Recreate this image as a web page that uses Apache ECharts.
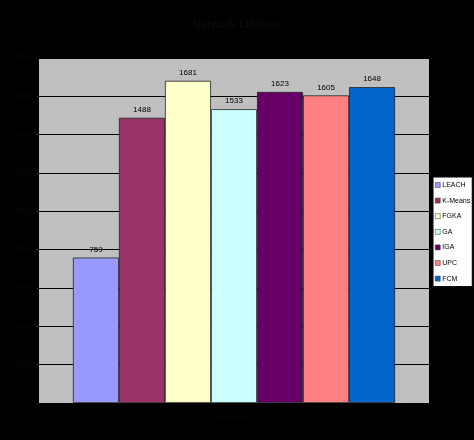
<!DOCTYPE html>
<html>
<head>
<meta charset="utf-8">
<script src="https://cdn.jsdelivr.net/npm/echarts@6/dist/echarts.min.js"></script>
<style>
html,body{margin:0;padding:0;background:#000;}
#c{width:474px;height:440px;}
</style>
</head>
<body>
<div id="c"></div>
<script>
var categories = ['Rounds'];
var seriesNames = ['LEACH', 'K-Means', 'FGKA', 'GA', 'IGA', 'UPC', 'FCM'];
var seriesValues = [759, 1488, 1681, 1533, 1623, 1605, 1648];
var seriesColors = ['#9999FF', '#993366', '#FFFFCC', '#CCFFFF', '#660066', '#FF8080', '#0066CC'];
var yTicks = [0, 200, 400, 600, 800, 1000, 1200, 1400, 1600, 1800];

var chart = echarts.init(document.getElementById('c'));
var series = seriesNames.map(function (n, i) {
  return {
    name: n,
    type: 'bar',
    data: [seriesValues[i]],
    barGap: '0%',
    barCategoryGap: '17.4%',
    itemStyle: { color: seriesColors[i], borderColor: '#222', borderWidth: 0.8 },
    label: {
      show: true, position: 'top', distance: 4,
      color: '#000', fontFamily: 'Liberation Sans Narrow, Arial Narrow, Liberation Sans', fontSize: 8
    }
  };
});
chart.setOption({
  backgroundColor: '#000',
  animation: false,
  title: {
    text: 'Network Lifetime',
    left: 'center', top: 14,
    textStyle: { color: '#0a0a0a', fontSize: 11, fontWeight: 'bold', fontFamily: 'Liberation Sans' }
  },
  grid: { left: 39, right: 45, top: 58, bottom: 37, backgroundColor: '#C0C0C0', show: true, borderWidth: 0 },
  legend: {
    data: seriesNames,
    orient: 'vertical',
    left: 433, top: 177,
    backgroundColor: '#fff',
    borderColor: '#000', borderWidth: 1,
    padding: [3, 2, 3, 2],
    itemWidth: 5, itemHeight: 5,
    itemGap: 5.6,
    icon: 'rect',
    itemStyle: { borderColor: '#333', borderWidth: 0.5 },
    textStyle: { color: '#000', fontSize: 7, lineHeight: 10, padding: [0, 0, 0, -3], fontFamily: 'Liberation Sans Narrow, Liberation Sans' }
  },
  xAxis: {
    type: 'category',
    data: categories,
    axisLine: { show: false },
    axisTick: { show: false },
    axisLabel: { color: '#080808', fontSize: 9, margin: 10 }
  },
  yAxis: {
    type: 'value',
    min: yTicks[0], max: yTicks[yTicks.length - 1], interval: 200,
    axisLine: { show: false },
    axisTick: { show: true, length: 3, lineStyle: { color: '#111' } },
    axisLabel: { color: '#080808', fontSize: 9 },
    splitLine: { lineStyle: { color: '#000', width: 1 } }
  },
  series: series
});
</script>
</body>
</html>
